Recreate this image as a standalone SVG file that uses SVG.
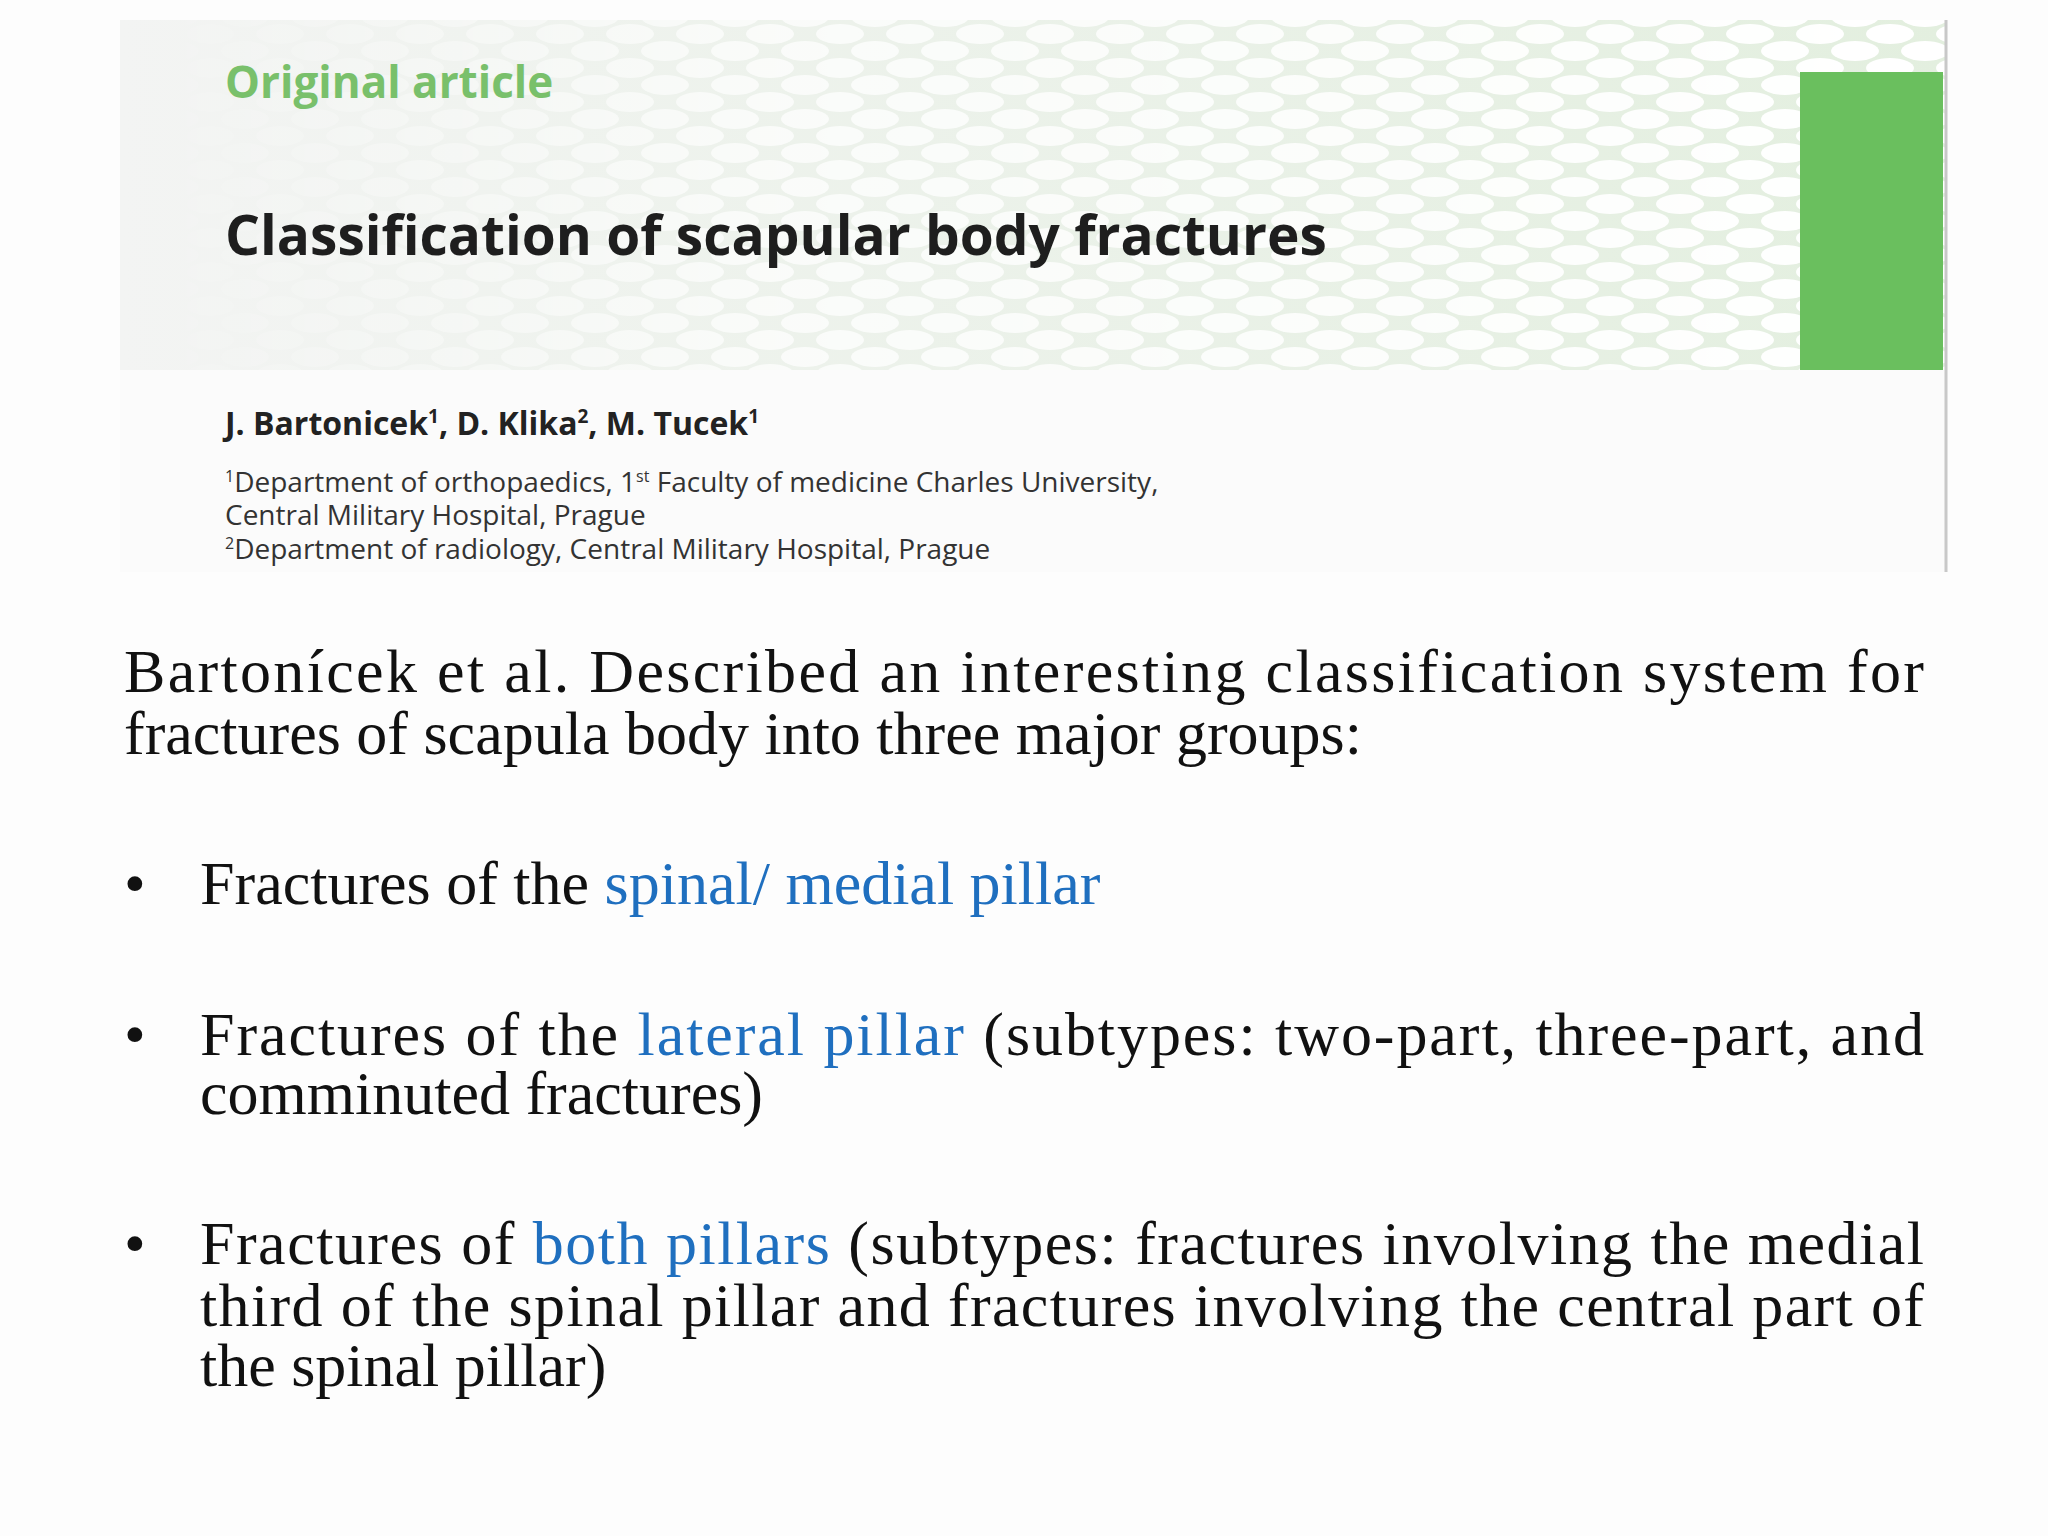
<svg xmlns="http://www.w3.org/2000/svg" width="2048" height="1536" viewBox="0 0 2048 1536">
<defs>
<linearGradient id="bg" x1="0" y1="0" x2="1" y2="0">
<stop offset="0" stop-color="#f3f4f3"/><stop offset="1" stop-color="#e3efdf"/>
</linearGradient>
<pattern id="dots" width="70" height="34" patternUnits="userSpaceOnUse">
<ellipse cx="35" cy="17" rx="24" ry="10" fill="#ffffff"/>
<ellipse cx="0" cy="0" rx="24" ry="10" fill="#ffffff"/>
<ellipse cx="70" cy="0" rx="24" ry="10" fill="#ffffff"/>
<ellipse cx="0" cy="34" rx="24" ry="10" fill="#ffffff"/>
<ellipse cx="70" cy="34" rx="24" ry="10" fill="#ffffff"/>
</pattern>
<linearGradient id="fade" x1="0" y1="0" x2="1" y2="0">
<stop offset="0" stop-color="#fff" stop-opacity="0"/><stop offset="0.35" stop-color="#fff" stop-opacity="0.7"/><stop offset="1" stop-color="#fff" stop-opacity="1"/>
</linearGradient>
<mask id="m"><rect x="120" y="20" width="1826" height="350" fill="url(#fade)"/></mask>
</defs>
<style>
.hd{font-family:"Open Sans","Noto Sans",sans-serif}
.bd{font-family:"Liberation Serif","Times New Roman",serif;font-size:62px;fill:#111}
.bl{fill:#1f6fbf}
</style>
<rect width="2048" height="1536" fill="#fdfdfd"/>
<g id="header">
<rect x="120" y="20" width="1826" height="552" fill="#fbfbfb"/>
<rect x="120" y="20" width="1826" height="350" fill="url(#bg)"/>
<rect x="120" y="20" width="1826" height="350" fill="url(#dots)" mask="url(#m)"/>
<rect x="1800" y="72" width="143" height="298" fill="#6abf5e"/>
<line x1="1946" y1="20" x2="1946" y2="572" stroke="#c8c8c8" stroke-width="3"/>
<text x="225" y="98" class="hd" font-size="44" font-weight="bold" fill="#79c06b">Original article</text>
<text x="225" y="255" class="hd" font-size="55" font-weight="bold" fill="#1e1e1e">Classification of scapular body fractures</text>
<text x="225" y="435" class="hd" font-size="32" font-weight="bold" fill="#222">J. Bartonicek<tspan font-size="19" dy="-12">1</tspan><tspan dy="12">, D. Klika</tspan><tspan font-size="19" dy="-12">2</tspan><tspan dy="12">, M. Tucek</tspan><tspan font-size="19" dy="-12">1</tspan></text>
<text x="225" y="492" class="hd" font-size="28" fill="#333"><tspan font-size="16" dy="-10">1</tspan><tspan dy="10">Department of orthopaedics, 1</tspan><tspan font-size="16" dy="-10">st</tspan><tspan dy="10"> Faculty of medicine Charles University,</tspan></text>
<text x="225" y="525" class="hd" font-size="28" fill="#333">Central Military Hospital, Prague</text>
<text x="225" y="559" class="hd" font-size="28" fill="#333"><tspan font-size="16" dy="-10">2</tspan><tspan dy="10">Department of radiology, Central Military Hospital, Prague</tspan></text>
</g>
<g id="body">
<text x="124" y="692" class="bd" textLength="1800" lengthAdjust="spacing">Bartonícek et al. Described an interesting classification system for</text>
<text x="124" y="754" class="bd">fractures of scapula body into three major groups:</text>
<text x="124" y="904" class="bd">•</text>
<text x="200" y="904" class="bd">Fractures of the <tspan class="bl">spinal/ medial pillar</tspan></text>
<text x="124" y="1055" class="bd">•</text>
<text x="200" y="1055" class="bd" textLength="1724" lengthAdjust="spacing">Fractures of the <tspan class="bl">lateral pillar</tspan> (subtypes: two-part, three-part, and</text>
<text x="200" y="1114" class="bd">comminuted fractures)</text>
<text x="124" y="1264" class="bd">•</text>
<text x="200" y="1264" class="bd" textLength="1724" lengthAdjust="spacing">Fractures of <tspan class="bl">both pillars</tspan> (subtypes: fractures involving the medial</text>
<text x="200" y="1326" class="bd" textLength="1724" lengthAdjust="spacing">third of the spinal pillar and fractures involving the central part of</text>
<text x="200" y="1386" class="bd">the spinal pillar)</text>
</g>
</svg>
